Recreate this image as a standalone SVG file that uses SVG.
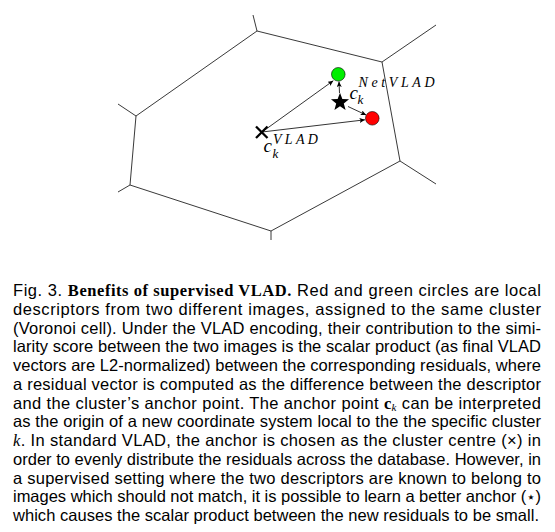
<svg xmlns="http://www.w3.org/2000/svg" width="555" height="532" viewBox="0 0 555 532">
<style>
.cell{fill:none;stroke:#222;stroke-width:0.9}
.conn{stroke:#000;stroke-width:0.8;fill:none;marker-end:url(#ah)}
.math{font-family:"Liberation Serif","DejaVu Serif",serif;font-style:italic;fill:#000}
.cap{font-family:"Liberation Sans",Arial,sans-serif;font-size:16.5px;fill:#000}
.b{font-family:"Liberation Serif",serif;font-weight:bold}
.mi{font-family:"Liberation Serif",serif;font-style:italic}
</style>
<defs>
<marker id="ah" markerWidth="6" markerHeight="5" refX="5.5" refY="2.5" orient="auto" markerUnits="userSpaceOnUse">
<path d="M0,0 L5.5,2.5 L0,5 L1.2,2.5 Z" fill="#000"/>
</marker>
</defs>
<rect width="555" height="532" fill="#fff"/>
<g id="voronoi-cell">
<polygon class="cell" points="257,31 382,62 400,161 271,231 130,185 136,116"/>
<line class="cell" x1="257" y1="31" x2="253" y2="15"/>
<line class="cell" x1="382" y1="62" x2="436" y2="25"/>
<line class="cell" x1="400" y1="161" x2="436" y2="184"/>
<line class="cell" x1="271" y1="231" x2="271" y2="240"/>
<line class="cell" x1="130" y1="185" x2="118" y2="192"/>
<line class="cell" x1="136" y1="116" x2="118" y2="104"/>
</g>
<g id="connectors">
<line class="conn" x1="262" y1="132" x2="333.3" y2="80.7"/>
<line class="conn" x1="262" y1="132" x2="365" y2="119.8"/>
<line class="conn" x1="339.5" y1="93" x2="339" y2="81.5"/>
<line class="conn" x1="348" y1="106.5" x2="366.2" y2="115"/>
</g>
<g id="green-descriptor">
<circle cx="338.3" cy="74.3" r="6.8" fill="#00ee00" stroke="#000" stroke-width="0.6"/>
</g>
<g id="red-descriptor">
<circle cx="372.3" cy="118.3" r="6.8" fill="#ff0000" stroke="#000" stroke-width="0.6"/>
</g>
<g id="vlad-anchor">
<line x1="256" y1="126.5" x2="267.5" y2="138" stroke="#000" stroke-width="2.3"/>
<line x1="256" y1="138" x2="267.5" y2="126.5" stroke="#000" stroke-width="2.3"/>
<text class="math" x="263.5" y="152" font-size="19">c<tspan x="272.5" y="158" font-size="13">k</tspan><tspan x="273" y="144" font-size="14" letter-spacing="3.3">VLAD</tspan></text>
</g>
<g id="netvlad-anchor">
<polygon points="340,92.8 342.35,99.06 349.03,99.36 343.8,103.54 345.58,109.99 340,106.3 334.42,109.99 336.2,103.54 330.97,99.36 337.65,99.06" fill="#000"/>
<text class="math" x="349.5" y="98.5" font-size="19">c<tspan x="357.5" y="103.5" font-size="13">k</tspan><tspan x="358.5" y="87" font-size="14" letter-spacing="3.6">NetVLAD</tspan></text>
</g>
<g id="caption">
<text class="cap" x="13" y="296" textLength="528" lengthAdjust="spacing">Fig. 3. <tspan class="b">Benefits of supervised VLAD.</tspan> Red and green circles are local</text>
<text class="cap" x="13" y="314.75" textLength="528" lengthAdjust="spacing">descriptors from two different images, assigned to the same cluster</text>
<text class="cap" x="13" y="333.5" textLength="528" lengthAdjust="spacing">(Voronoi cell). Under the VLAD encoding, their contribution to the simi-</text>
<text class="cap" x="13" y="352.25" textLength="528" lengthAdjust="spacing">larity score between the two images is the scalar product (as final VLAD</text>
<text class="cap" x="13" y="371" textLength="528" lengthAdjust="spacing">vectors are L2-normalized) between the corresponding residuals, where</text>
<text class="cap" x="13" y="389.75" textLength="528" lengthAdjust="spacing">a residual vector is computed as the difference between the descriptor</text>
<text class="cap" x="13" y="408.5" textLength="528" lengthAdjust="spacing">and the cluster’s anchor point. The anchor point <tspan class="b">c</tspan><tspan class="mi" font-size="11" dy="2.5">k</tspan><tspan dy="-2.5"> can be interpreted</tspan></text>
<text class="cap" x="13" y="427.25" textLength="528" lengthAdjust="spacing">as the origin of a new coordinate system local to the the specific cluster</text>
<text class="cap" x="13" y="446" textLength="528" lengthAdjust="spacing"><tspan class="mi">k</tspan>. In standard VLAD, the anchor is chosen as the cluster centre (×) in</text>
<text class="cap" x="13" y="464.75" textLength="528" lengthAdjust="spacing">order to evenly distribute the residuals across the database. However, in</text>
<text class="cap" x="13" y="483.5" textLength="528" lengthAdjust="spacing">a supervised setting where the two descriptors are known to belong to</text>
<text class="cap" x="13" y="502.25" textLength="528" lengthAdjust="spacing">images which should not match, it is possible to learn a better anchor (<tspan font-family="DejaVu Sans" font-size="15">⋆</tspan>)</text>
<text class="cap" x="13" y="521" textLength="526" lengthAdjust="spacing">which causes the scalar product between the new residuals to be small.</text>
</g>
</svg>
